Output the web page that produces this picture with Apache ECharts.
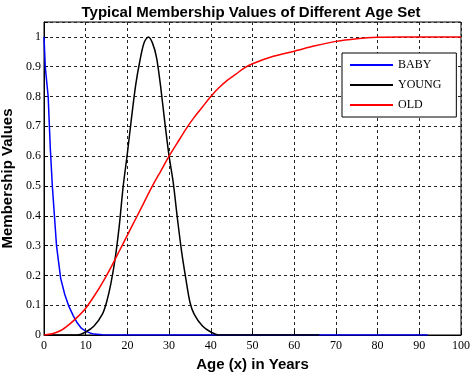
<!DOCTYPE html>
<html>
<head>
<meta charset="utf-8">
<script src="https://cdn.jsdelivr.net/npm/echarts@6/dist/echarts.min.js"></script>
<style>
  html, body { margin: 0; padding: 0; background: #fff; }
  #chart { width: 474px; height: 377px; }
</style>
</head>
<body>
<div id="chart"></div>
<script>
// BABY
var babyAge = [0, 0.3, 1, 1.5, 2, 2.5, 3, 4, 5, 6, 7, 8, 9, 10, 11, 12, 14, 16, 92];
var babyVal = [1, 0.9, 0.8, 0.63, 0.5, 0.4, 0.3, 0.19, 0.135, 0.095, 0.065, 0.04, 0.022, 0.013, 0.007, 0.003, 0.001, 0, 0];
// YOUNG
var youngAge = [0, 8, 10, 12, 14, 15, 16, 17, 18, 19, 20, 21, 22, 23, 24, 25, 26, 27, 28, 29, 30, 31, 32, 33, 34, 35, 36, 38, 40, 42, 66];
var youngVal = [0, 0, 0.01, 0.03, 0.07, 0.11, 0.17, 0.25, 0.36, 0.5, 0.61, 0.73, 0.84, 0.92, 0.98, 1, 0.98, 0.93, 0.83, 0.71, 0.6, 0.51, 0.39, 0.28, 0.19, 0.11, 0.07, 0.03, 0.01, 0, 0];
// OLD
var oldAge = [0, 2, 4, 6, 8, 10, 12, 14, 16, 18, 20, 22, 24, 26, 28, 30, 32, 34, 36, 38, 40, 42, 44, 46, 48, 50, 55, 60, 65, 70, 75, 80, 85, 100];
var oldVal = [0, 0.004, 0.015, 0.035, 0.06, 0.09, 0.13, 0.175, 0.225, 0.28, 0.335, 0.39, 0.445, 0.5, 0.55, 0.6, 0.645, 0.69, 0.73, 0.765, 0.8, 0.83, 0.855, 0.875, 0.895, 0.91, 0.935, 0.952, 0.97, 0.985, 0.994, 0.999, 1, 1];

var names = ['BABY', 'YOUNG', 'OLD'];
var colors = ['#0000ff', '#000000', '#ff0000'];

function pairs(xs, ys) {
  var out = [];
  for (var i = 0; i < xs.length; i++) out.push([xs[i], ys[i]]);
  return out;
}

var serif = '"Liberation Serif", "Times New Roman", serif';
var sans = '"Liberation Sans", Arial, sans-serif';

function makeLine(name, data, color, smooth) {
  return {
    name: name,
    type: 'line',
    data: data,
    symbol: 'none',
    smooth: smooth,
    lineStyle: { color: color, width: 1.5 },
    itemStyle: { color: color }
  };
}

var option = {
  animation: false,
  title: {
    text: 'Typical Membership Values of Different Age Set',
    left: 246,
    top: 0,
    textAlign: 'center',
    textStyle: { fontFamily: sans, fontSize: 15, fontWeight: 'bold', color: '#000' }
  },
  legend: {
    data: names,
    orient: 'vertical',
    left: 342,
    top: 53,
    icon: 'rect',
    padding: [5, 15, 5, 8],
    itemWidth: 43,
    itemHeight: 2,
    itemGap: 6,
    borderColor: '#000',
    borderWidth: 1,
    backgroundColor: '#fff',
    textStyle: { fontFamily: serif, fontSize: 12, color: '#000', lineHeight: 14 }
  },
  grid: {
    left: 44, right: 13, top: 22, bottom: 42,
    outerBoundsMode: 'none',
    containLabel: false,
    show: true, borderColor: '#000', borderWidth: 1, backgroundColor: '#fff'
  },
  xAxis: {
    type: 'value',
    min: 0, max: 100, interval: 10,
    name: 'Age (x) in Years',
    nameLocation: 'middle',
    nameGap: 20,
    nameTextStyle: { fontFamily: sans, fontSize: 15, fontWeight: 'bold', color: '#000' },
    axisLine: { show: true, lineStyle: { color: '#000' } },
    axisTick: { show: true, inside: true, length: 4, lineStyle: { color: '#000' } },
    axisLabel: { fontFamily: serif, fontSize: 12, color: '#000', margin: 5 },
    splitLine: { show: true, lineStyle: { color: '#222', type: [3, 3], width: 1 } }
  },
  yAxis: {
    type: 'value',
    min: 0, max: 1.05, interval: 0.1,
    name: 'Membership Values',
    nameLocation: 'middle',
    nameGap: 22,
    nameTextStyle: { fontFamily: sans, fontSize: 15, fontWeight: 'bold', color: '#000' },
    axisLine: { show: true, lineStyle: { color: '#000' } },
    axisTick: { show: true, inside: true, length: 4, lineStyle: { color: '#000' } },
    axisLabel: {
      fontFamily: serif, fontSize: 12, color: '#000', margin: 3,
      formatter: function (v) {
        if (v > 1.001) return '';
        if (v === 0) return '0';
        if (Math.abs(v - 1) < 1e-6) return '1';
        return v.toFixed(1);
      }
    },
    splitLine: { show: true, lineStyle: { color: '#222', type: [3, 3], width: 1 } }
  },
  series: [
    makeLine(names[0], pairs(babyAge, babyVal), colors[0], false),
    makeLine(names[1], pairs(youngAge, youngVal), colors[1], 0.3),
    makeLine(names[2], pairs(oldAge, oldVal), colors[2], 0.3)
  ]
};

var chart = echarts.init(document.getElementById('chart'));
chart.setOption(option);
</script>
</body>
</html>
